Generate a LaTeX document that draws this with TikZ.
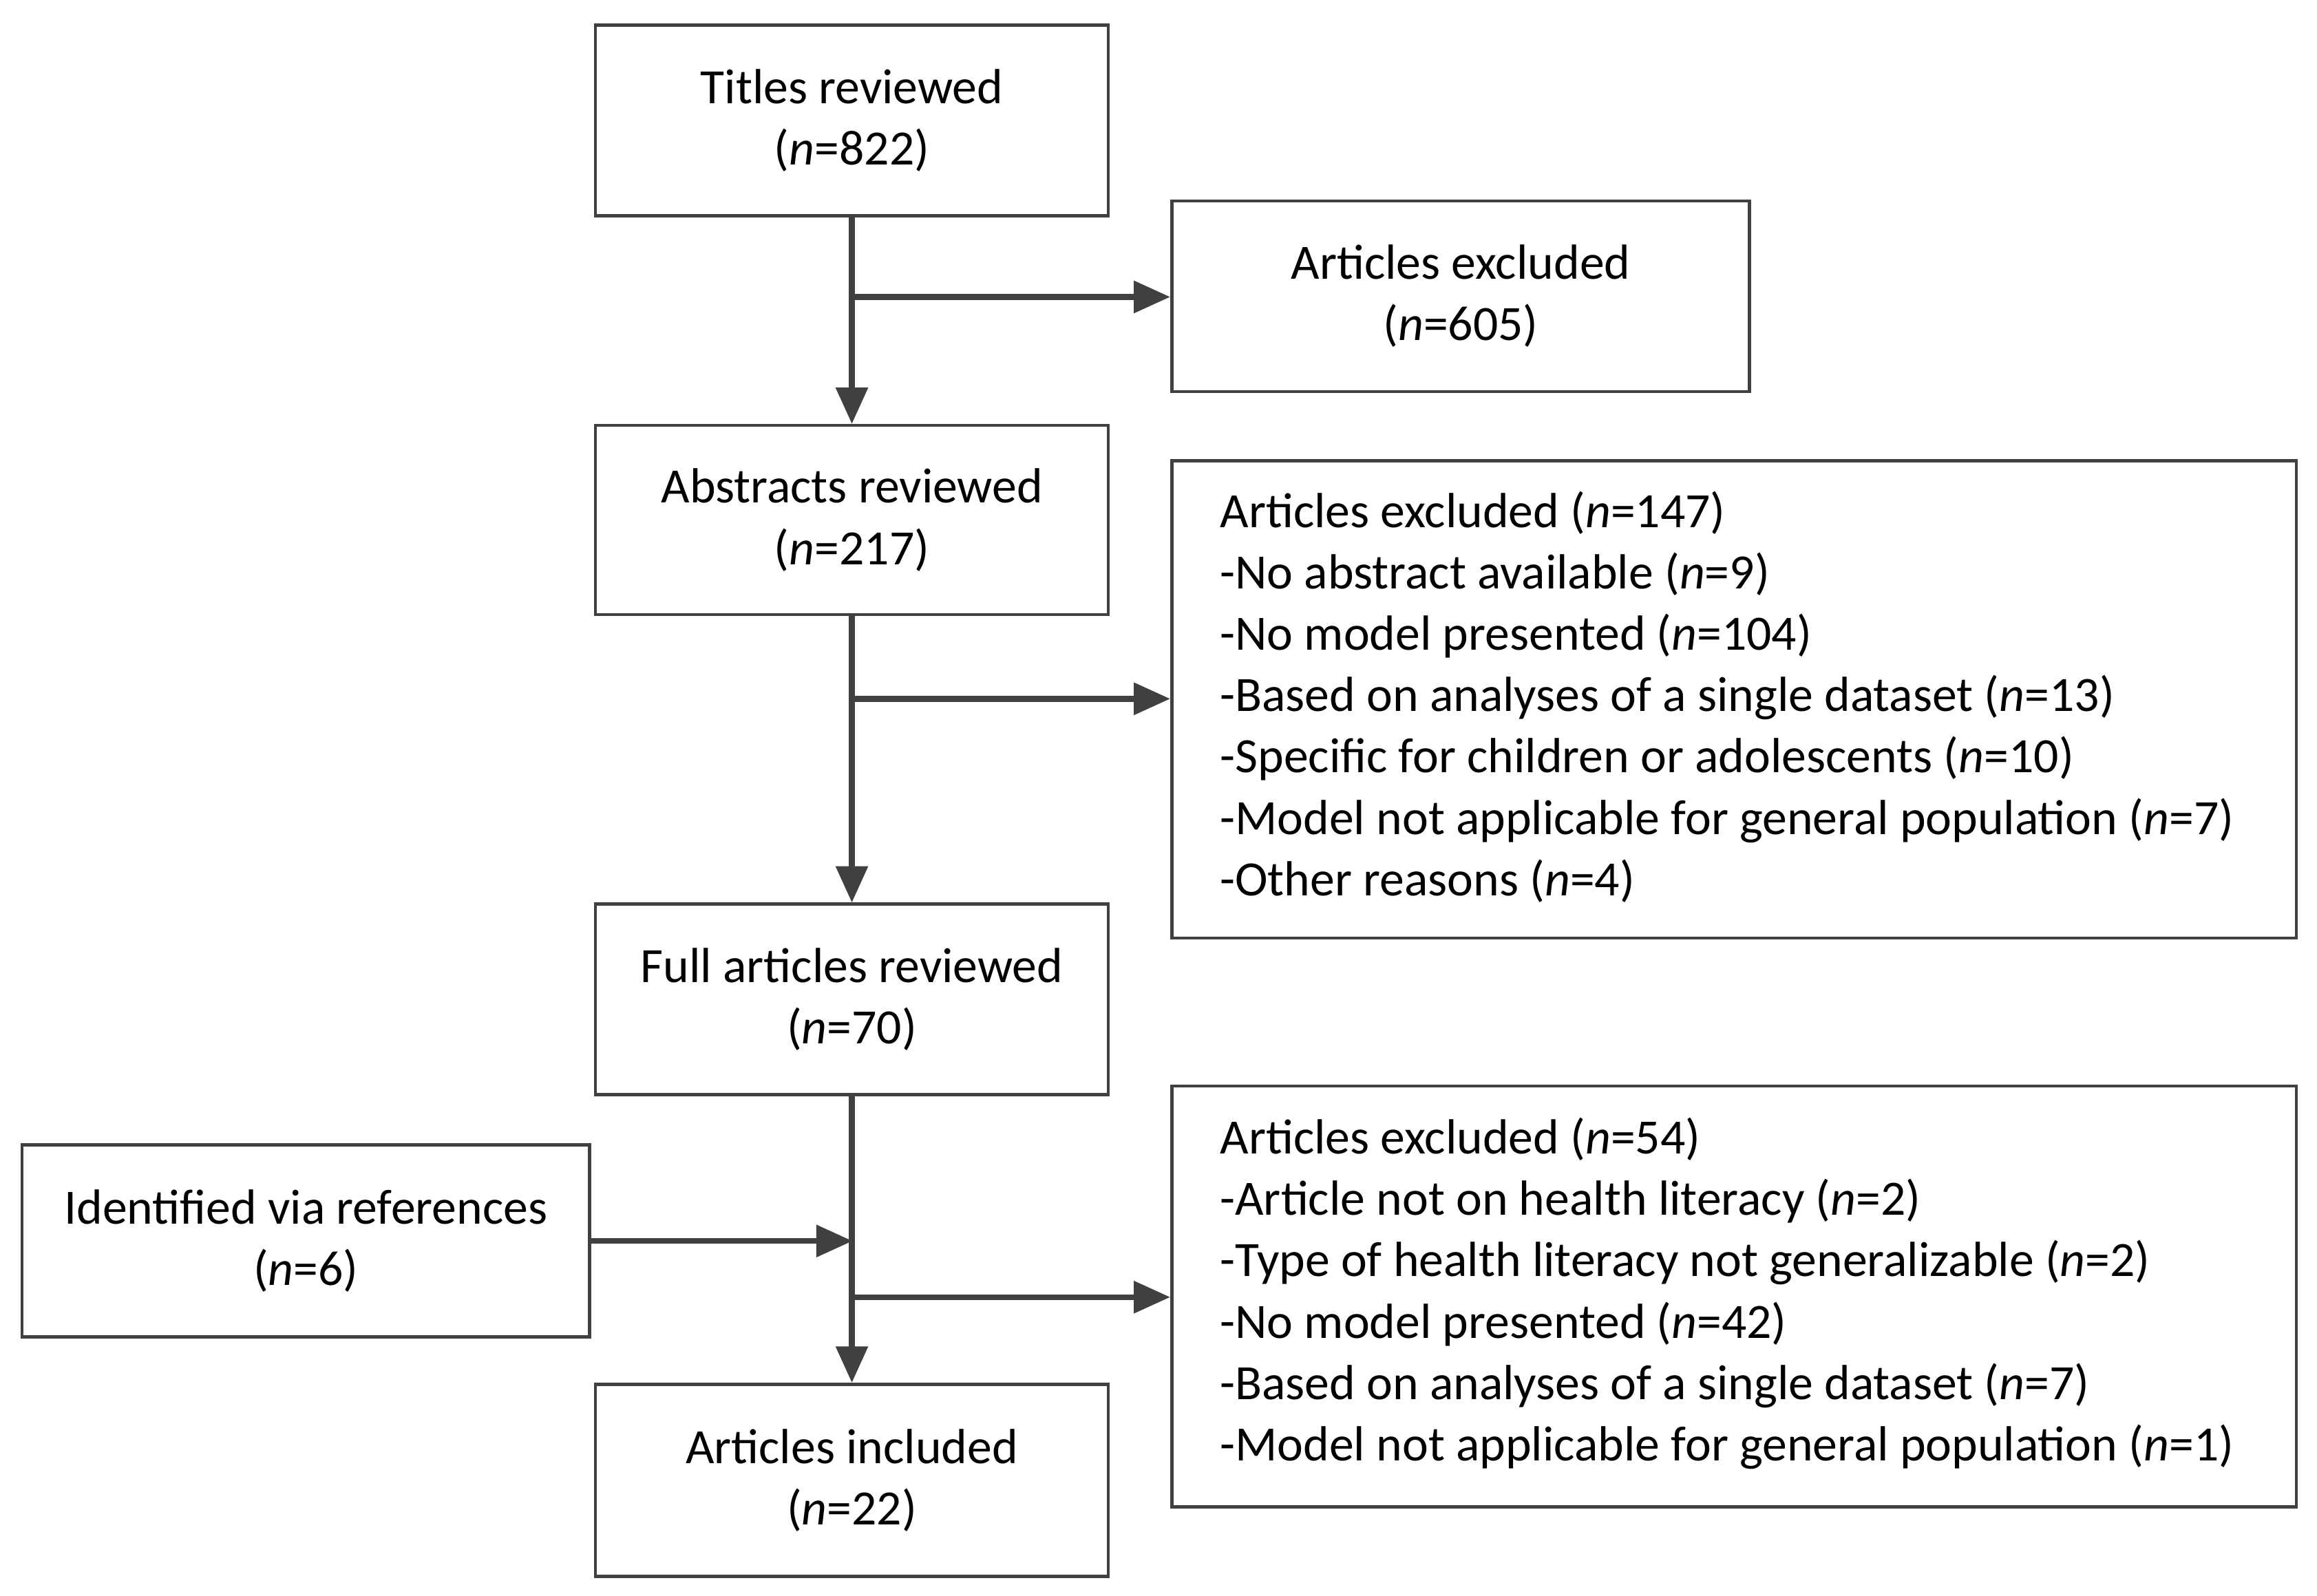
\documentclass[tikz,border=0pt]{standalone}
\usepackage{fontspec}
\setmainfont{Carlito}
\usetikzlibrary{arrows.meta}
\begin{document}
\begin{tikzpicture}[x=0.01cm,y=-0.01cm,
  box/.style={draw=black!75,line width=0.6pt,inner sep=0pt,font=\fontsize{9.5}{11.8}\selectfont,align=center},
  list/.style={anchor=north west,inner sep=0pt,font=\fontsize{9.5}{11.8}\selectfont,align=left},
  arr/.style={draw=black!75,line width=1.1pt,-{Triangle[length=7pt,width=6pt]}},
  ln/.style={draw=black!75,line width=1.1pt}]
\useasboundingbox[fill=white] (0,0) rectangle (1568,1080);
\node[box,minimum width=347*0.01cm,minimum height=129*0.01cm] (t) at (576.5,81.5) {Titles reviewed\\(\textit{n}=822)};
\node[box,minimum width=391*0.01cm,minimum height=129*0.01cm] (e1) at (988.5,200.5) {Articles excluded\\(\textit{n}=605)};
\node[box,minimum width=347*0.01cm,minimum height=128*0.01cm] (a) at (576.5,352) {Abstracts reviewed\\(\textit{n}=217)};
\node[box,minimum width=761*0.01cm,minimum height=323*0.01cm] (e2) at (1173.5,473.5) {};
\node[list] at (825,332) {Articles excluded (\textit{n}=147)\\-No abstract available (\textit{n}=9)\\-No model presented (\textit{n}=104)\\-Based on analyses of a single dataset (\textit{n}=13)\\-Specific for children or adolescents (\textit{n}=10)\\-Model not applicable for general population (\textit{n}=7)\\-Other reasons (\textit{n}=4)};
\node[box,minimum width=347*0.01cm,minimum height=129*0.01cm] (f) at (576.5,676.5) {Full articles reviewed\\(\textit{n}=70)};
\node[box,minimum width=384*0.01cm,minimum height=130*0.01cm] (r) at (207,840) {Identified via references\\(\textit{n}=6)};
\node[box,minimum width=761*0.01cm,minimum height=285*0.01cm] (e3) at (1173.5,877.5) {};
\node[list] at (825,756) {Articles excluded (\textit{n}=54)\\-Article not on health literacy (\textit{n}=2)\\-Type of health literacy not generalizable (\textit{n}=2)\\-No model presented (\textit{n}=42)\\-Based on analyses of a single dataset (\textit{n}=7)\\-Model not applicable for general population (\textit{n}=1)};
\node[box,minimum width=347*0.01cm,minimum height=130*0.01cm] (i) at (576.5,1002) {Articles included\\(\textit{n}=22)};
\draw[arr] (t.south) -- (a.north);
\draw[arr] (a.south) -- (f.north);
\draw[arr] (f.south) -- (i.north);
\coordinate (b1) at (577,201);
\coordinate (b2) at (577,473);
\coordinate (b3) at (577,840);
\coordinate (b4) at (577,878);
\draw[arr] (b1) -- (b1 -| e1.west);
\draw[arr] (b2) -- (b2 -| e2.west);
\draw[arr] (r.east |- b3) -- (b3);
\draw[arr] (b4) -- (b4 -| e3.west);
\end{tikzpicture}
\end{document}
